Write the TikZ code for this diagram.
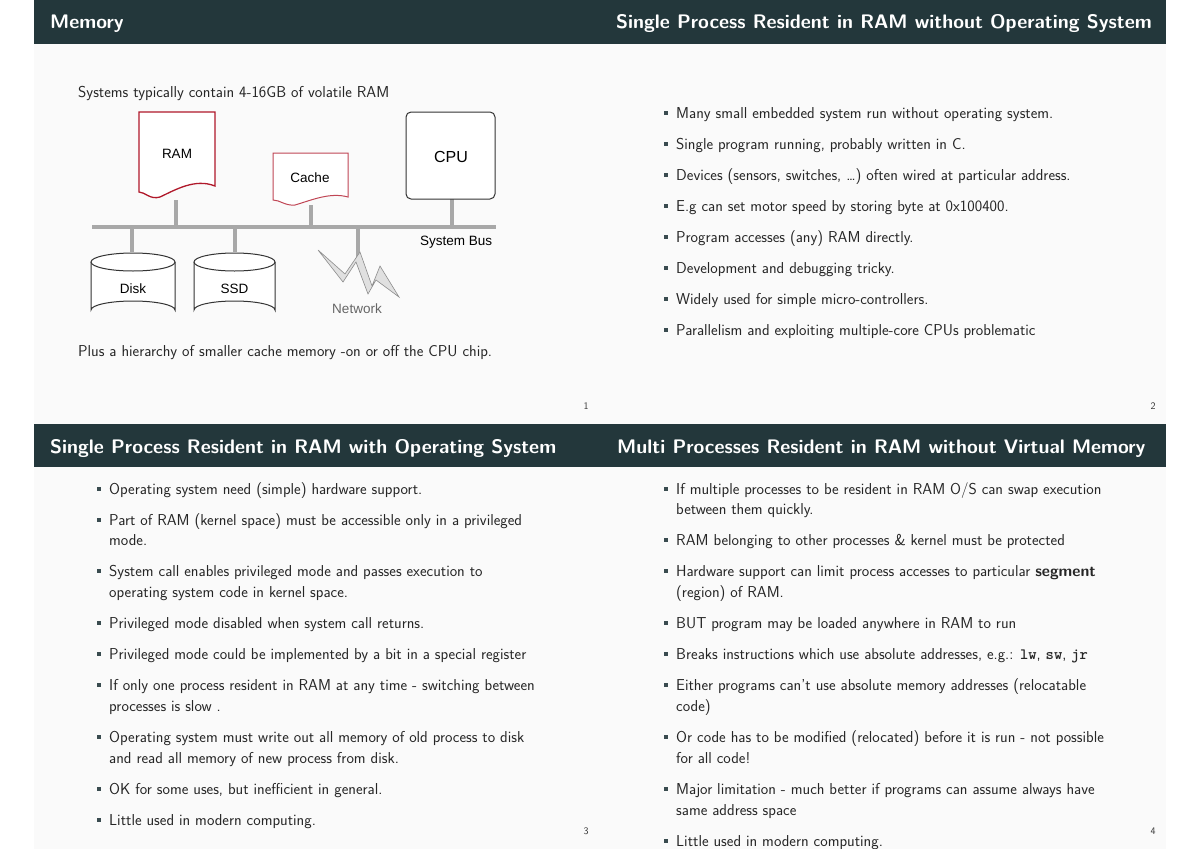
\documentclass[tikz,border=0pt]{standalone}
\usepackage{fontspec}
\usetikzlibrary{shapes.geometric}
\definecolor{bar}{HTML}{23373B}
\definecolor{bg}{HTML}{FAFAFA}
\definecolor{red1}{HTML}{B0182A}
\definecolor{busg}{HTML}{A8A8A8}
\newcommand{\bul}[3]{\fill[bar!90] (#1-12.5,#2-7.5) rectangle ++(4,4);\node[txt] at (#1,#2) {#3};}
\newcommand{\cnt}[3]{\node[txt] at (#1,#2) {#3};}
\begin{document}
\begin{tikzpicture}[x=1pt,y=-1pt,
 txt/.style={anchor=base west,inner sep=0,font=\sffamily\fontsize{15.8}{18}\selectfont,text=black!85},
 ttl/.style={inner sep=0,font=\sffamily\bfseries\fontsize{19.6}{22}\selectfont,text=white},
 dg/.style={inner sep=0,font=\fontspec{Liberation Sans}\fontsize{13.5}{15}\selectfont},
 bus/.style={busg,line width=4.5pt},
 num/.style={inner sep=0,font=\sffamily\fontsize{10}{11}\selectfont,text=black!80}]
\useasboundingbox (0,0) rectangle (1200,849);
\fill[white] (0,0) rectangle (1200,849);
\fill[bg] (34,0) rectangle (1166,849);
\fill[bar] (34,0) rectangle (1166,44);
\fill[bar] (34,424) rectangle (1166,467);
\node[ttl,anchor=base west] (t1) at (50,28) {Memory};
\node[ttl,anchor=base east] (t2) at (1152,28) {Single Process Resident in RAM without Operating System};
\node[ttl,anchor=base west] (t3) at (50,453) {Single Process Resident in RAM with Operating System};
\node[ttl,anchor=base west] (t4) at (617,453) {Multi Processes Resident in RAM without Virtual Memory};
\node[num] (n1) at (586,406) {1};
\node[num] (n2) at (1153,406) {2};
\node[num] (n3) at (586,831) {3};
\node[num] (n4) at (1153,831) {4};
% slide 1
\cnt{78}{97}{Systems typically contain 4-16GB of volatile RAM}
\cnt{78}{356}{Plus a hierarchy of smaller cache memory -on or off the CPU chip.}
\draw[bus] (176,200) -- (176,227);
\draw[bus] (311,205) -- (311,227);
\draw[bus] (452,199) -- (452,227);
\draw[bus] (132,227) -- (132,252);
\draw[bus] (235,227) -- (235,252);
\draw[bus] (358,227) -- (358,262);
\draw[bus] (92,227) -- (496,227);
\draw[red1,fill=white,line width=1.3pt] (139,112) -- (215,112) -- (215,186) .. controls (195,178) and (175,190) .. (160,197) .. controls (150,200) and (145,192) .. (139,192) -- cycle;
\node[dg] (ram) at (177,154) {RAM};
\draw[red1!80,fill=white,line width=1pt] (273,153) -- (348,153) -- (348,197) .. controls (330,192) and (312,200) .. (295,205) .. controls (285,206) and (280,200) .. (273,200) -- cycle;
\node[dg] (cache) at (310,178) {Cache};
\draw[black!80,fill=white,line width=1pt,rounded corners=5pt] (406,112) rectangle (495,199);
\node[dg,font=\fontspec{Liberation Sans}\fontsize{16}{18}\selectfont] (cpu) at (451,157) {CPU};
\foreach \xa/\xb/\lab in {91/175/Disk,194/275/SSD}{
 \draw[black!80,fill=white,line width=1pt] (\xa,262) -- (\xa,310) arc[x radius={(\xb-\xa)/2},y radius=9,start angle=180,end angle=360] -- (\xb,262);
 \draw[black!80,fill=white,line width=1pt] ({(\xa+\xb)/2},262) ellipse [x radius={(\xb-\xa)/2},y radius=9];
 \node[dg] at ({(\xa+\xb)/2},289) {\lab};}
\draw[black!45,fill=black!12,line width=0.6pt] (318,250) -- (345,274) -- (360,252) -- (372,286) -- (380,266) -- (399,297) -- (376,280) -- (368,294) -- (356,262) -- (343,282) -- cycle;
\node[dg,anchor=west] (sb) at (420,242) {System Bus};
\node[dg,text=black!60] (nw) at (357,309) {Network};
% slide 2
\bul{676}{118}{Many small embedded system run without operating system.}
\bul{676}{149}{Single program running, probably written in C.}
\bul{676}{180}{Devices (sensors, switches, \dots) often wired at particular address.}
\bul{676}{211}{E.g can set motor speed by storing byte at 0x100400.}
\bul{676}{242}{Program accesses (any) RAM directly.}
\bul{676}{273}{Development and debugging tricky.}
\bul{676}{304}{Widely used for simple micro-controllers.}
\bul{676}{335}{Parallelism and exploiting multiple-core CPUs problematic}
% slide 3
\bul{109}{494}{Operating system need (simple) hardware support.}
\bul{109}{525}{Part of RAM (kernel space) must be accessible only in a privileged}
\cnt{109}{545}{mode.}
\bul{109}{576}{System call enables privileged mode and passes execution to}
\cnt{109}{597}{operating system code in kernel space.}
\bul{109}{628}{Privileged mode disabled when system call returns.}
\bul{109}{659}{Privileged mode could be implemented by a bit in a special register}
\bul{109}{690}{If only one process resident in RAM at any time - switching between}
\cnt{109}{711}{processes is slow .}
\bul{109}{742}{Operating system must write out all memory of old process to disk}
\cnt{109}{763}{and read all memory of new process from disk.}
\bul{109}{794}{OK for some uses, but inefficient in general.}
\bul{109}{825}{Little used in modern computing.}
% slide 4
\bul{676}{494}{If multiple processes to be resident in RAM O/S can swap execution}
\cnt{676}{514}{between them quickly.}
\bul{676}{545}{RAM belonging to other processes \& kernel must be protected}
\bul{676}{576}{Hardware support can limit process accesses to particular \textbf{segment}}
\cnt{676}{597}{(region) of RAM.}
\bul{676}{628}{BUT program may be loaded anywhere in RAM to run}
\bul{676}{659}{Breaks instructions which use absolute addresses, e.g.: \texttt{\bfseries lw}, \texttt{\bfseries sw}, \texttt{\bfseries jr}}
\bul{676}{690}{Either programs can't use absolute memory addresses (relocatable}
\cnt{676}{711}{code)}
\bul{676}{742}{Or code has to be modified (relocated) before it is run - not possible}
\cnt{676}{763}{for all code!}
\bul{676}{794}{Major limitation - much better if programs can assume always have}
\cnt{676}{815}{same address space}
\bul{676}{846}{Little used in modern computing.}
\end{tikzpicture}
\end{document}
